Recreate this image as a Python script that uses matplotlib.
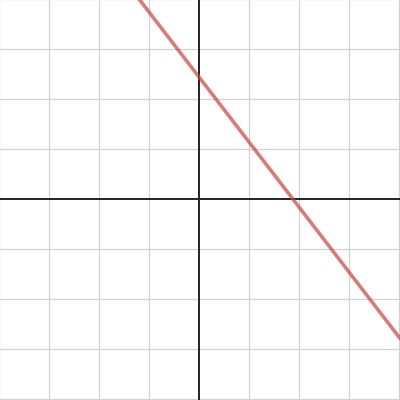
import matplotlib
matplotlib.use("Agg")
import matplotlib.pyplot as plt
import numpy as np

# Data
line_x = [-1.2, 4.1]
line_y = [4.0, -2.89]
grid_ticks = [-4, -3, -2, -1, 0, 1, 2, 3, 4]

fig = plt.figure(figsize=(4, 4), dpi=100)
ax = fig.add_axes([0, 0, 1, 1])
ax.set_xlim(-3.98, 4.02)
ax.set_ylim(-4.02, 3.98)
for t in grid_ticks:
    if t == 0:
        continue
    ax.axvline(t, color="#d2d2d2", lw=0.9, zorder=1)
    ax.axhline(t, color="#d2d2d2", lw=0.9, zorder=1)
ax.axvline(0, color="#222222", lw=1.4, zorder=2)
ax.axhline(0, color="#222222", lw=1.4, zorder=2)
ax.plot(line_x, line_y, color="#c74440", alpha=0.7, lw=2.6, zorder=3,
        solid_capstyle="butt")
ax.set_axis_off()
fig.savefig("out.png", dpi=100)
